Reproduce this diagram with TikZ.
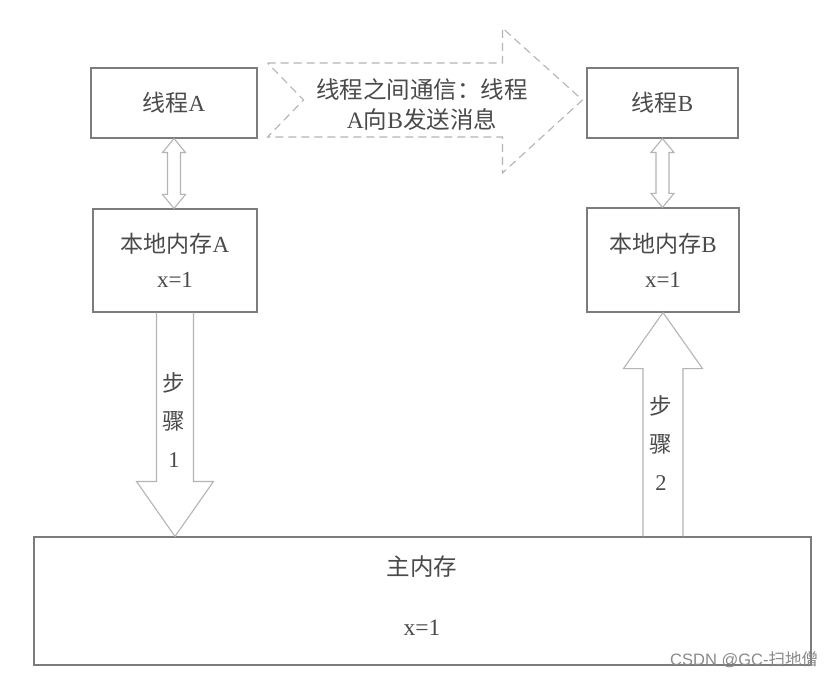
\documentclass[tikz,border=0pt]{standalone}
\usepackage{fontspec}
\setmainfont{Liberation Serif}
\newfontfamily\cjk{Noto Sans CJK SC}
\newfontfamily\wmfont{Liberation Sans}
\usetikzlibrary{calc}
\definecolor{boxgray}{HTML}{7C7C7C}
\definecolor{arrgray}{HTML}{B4B4B4}
\definecolor{txtgray}{HTML}{4A4A4A}
\definecolor{wmgray}{HTML}{8A8A8A}
\begin{document}
\begin{tikzpicture}[x=1pt,y=-1pt,
  box/.style={draw=boxgray,line width=1.1pt,inner sep=0pt,text=txtgray,
    font=\fontsize{23}{35}\selectfont,align=center},
  hollow/.style={draw=arrgray,line width=1.1pt,line join=miter},
  dasharrow/.style={draw=arrgray,line width=1.1pt,dash pattern=on 8pt off 5pt},
  lbl/.style={text=txtgray,font=\fontsize{23.5}{30}\selectfont,align=center,inner sep=0pt},
  steplbl/.style={text=txtgray,font=\fontsize{22.5}{38}\selectfont,align=center,inner sep=0pt}]
\useasboundingbox[fill=white] (0,0) rectangle (835,676);

% boxes
\node[box,minimum width=166pt,minimum height=70pt] (ta) at (174,103) {{\cjk 线程}A};
\node[box,minimum width=151pt,minimum height=70pt] (tb) at (662.5,103) {{\cjk 线程}B};
\node[box,minimum width=164pt,minimum height=103pt] (la) at (175,260.5) {{\cjk 本地内存}A\\x=1};
\node[box,minimum width=152pt,minimum height=104pt] (lb) at (663,260) {{\cjk 本地内存}B\\x=1};
\node[box,minimum width=777pt,minimum height=128pt] (main) at (422.5,601) {};
\node[lbl] (mainname) at (422,567) {\cjk 主内存};
\node[lbl] (mainval) at (422,628) {x=1};

% dashed message arrow between thread A and thread B
\coordinate (d0) at ($(ta.east)+(10,-3)$);
\coordinate (d1) at ($(tb.west)+(-4,-3)$);
\draw[dasharrow] ($(d0)+(0,-37)$) -- ($(d1)+(-80,-37)$) -- ($(d1)+(-80,-72)$) -- (d1)
  -- ($(d1)+(-80,73)$) -- ($(d1)+(-80,37)$) -- ($(d0)+(0,37)$) -- ($(d0)+(36,0)$) -- cycle;
\node[lbl] (msg) at (422,105) {{\cjk 线程之间通信：线程}\\A{\cjk 向}B{\cjk 发送消息}};

% double hollow arrows
\coordinate (a1) at (ta.south);
\coordinate (a2) at (ta.south |- la.north);
\draw[hollow] (a1) -- ($(a1)+(11.5,14)$) -- ($(a1)+(6.5,14)$) -- ($(a2)+(6.5,-14)$) -- ($(a2)+(11.5,-14)$)
  -- (a2) -- ($(a2)+(-11.5,-14)$) -- ($(a2)+(-6.5,-14)$) -- ($(a1)+(-6.5,14)$) -- ($(a1)+(-11.5,14)$) -- cycle;
\coordinate (b1) at (tb.south);
\coordinate (b2) at (tb.south |- lb.north);
\draw[hollow] (b1) -- ($(b1)+(11.5,14)$) -- ($(b1)+(6.5,14)$) -- ($(b2)+(6.5,-14)$) -- ($(b2)+(11.5,-14)$)
  -- (b2) -- ($(b2)+(-11.5,-14)$) -- ($(b2)+(-6.5,-14)$) -- ($(b1)+(-6.5,14)$) -- ($(b1)+(-11.5,14)$) -- cycle;

% step 1 arrow (down)
\coordinate (s1t) at (la.south);
\coordinate (s1b) at (la.south |- main.north);
\draw[hollow] ($(s1t)+(-18.5,0)$) -- ($(s1b)+(-18.5,-55)$) -- ($(s1b)+(-38.5,-55)$) -- (s1b)
  -- ($(s1b)+(38.5,-55)$) -- ($(s1b)+(18.5,-55)$) -- ($(s1t)+(18.5,0)$);
\node[steplbl] (step1) at (174,420) {{\cjk 步}\\{\cjk 骤}\\1};

% step 2 arrow (up)
\coordinate (s2t) at (lb.south);
\coordinate (s2b) at (lb.south |- main.north);
\draw[hollow] ($(s2b)+(-20,0)$) -- ($(s2t)+(-20,56)$) -- ($(s2t)+(-39.5,56)$) -- (s2t)
  -- ($(s2t)+(39.5,56)$) -- ($(s2t)+(20,56)$) -- ($(s2b)+(20,0)$);
\node[steplbl] (step2) at (661,443) {{\cjk 步}\\{\cjk 骤}\\2};

% watermark
\node[anchor=base west,inner sep=0pt,text=wmgray,font=\wmfont\fontsize{16.5}{18}\selectfont] (wm) at (670,665) {CSDN @GC-{\cjk 扫地僧}};
\end{tikzpicture}
\end{document}
